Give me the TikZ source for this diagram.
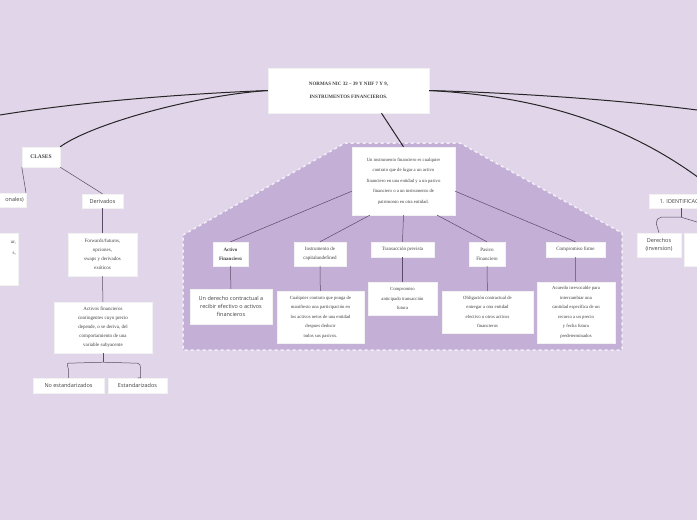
\documentclass[tikz,border=0pt]{standalone}
\usepackage{fontspec}
\setmainfont{Liberation Serif}
\newfontfamily\sansf{Open Sans}
\definecolor{bg}{HTML}{E1D5EA}
\definecolor{reg}{HTML}{C4B0D6}
\definecolor{ln}{HTML}{5A4A66}
\begin{document}
\begin{tikzpicture}[x=1pt,y=-1pt,
 box/.style={draw=white!90!gray,fill=white,inner sep=2pt,align=center,text=black!75,font=\fontsize{5}{9}\selectfont},
 sbox/.style={box,font=\sansf\fontsize{5.5}{8}\selectfont},
 con/.style={draw=ln,line width=0.5pt},
 thick con/.style={draw=black!85,line width=1pt}]
\useasboundingbox (0,0) rectangle (697,520);
\clip (0,0) rectangle (697,520);
\fill[bg] (0,0) rectangle (697,520);
\fill[reg] (183,235) -- (345,143) -- (460,143) -- (622,233) -- (622,350) -- (183,350) -- cycle;
\draw[white!80!reg,line width=1.5pt,dash pattern=on 3pt off 3pt] (183,235) -- (345,143) -- (460,143) -- (622,233) -- (622,350) -- (183,350) -- cycle;
% root
\node[box,minimum width=161,minimum height=45,font=\bfseries\fontsize{5}{13}\selectfont] (root) at (348.5,90.5) {NORMAS NIC 32 -- 39 Y NIIF 7 Y 9,\\INSTRUMENTOS FINANCIEROS.};
\coordinate (L1) at (0,115);
\coordinate (R1) at (697,110);
% definition
\node[box,minimum width=103,minimum height=68,font=\fontsize{4.7}{10.5}\selectfont] (def) at (403.5,181) {Un instrumento financiero es cualquier\\contrato que de lugar a un activo\\financiero en una entidad y a un pasivo\\financiero o a un instrumento de\\patrimonio en otra entidad.};
\node[box,minimum width=35,minimum height=24] (a1) at (230.5,254) {\bfseries Activo\\\bfseries Financiero};
\node[box,minimum width=52,minimum height=24] (a2) at (320,254) {Instrumento de\\capitalundefined};
\node[box,minimum width=63,minimum height=15] (a3) at (402.5,249.5) {Transacción prevista};
\node[box,minimum width=36,minimum height=24] (a4) at (487,254) {Pasivo\\Financiero};
\node[box,minimum width=59,minimum height=15] (a5) at (575.5,249.5) {Compromiso firme};
\node[sbox,minimum width=82,minimum height=35] (b1) at (231,306.5) {Un derecho contractual a\\recibir efectivo o activos\\financieros};
\node[box,minimum width=87,minimum height=52,font=\fontsize{4.7}{9.5}\selectfont] (b2) at (320.5,317) {Cualquier contrato que ponga de\\manifiesto una participación en\\los activos netos de una entidad\\despues deducir\\todos sus pasivos.};
\node[box,minimum width=69,minimum height=33,font=\fontsize{4.7}{9.5}\selectfont] (b3) at (402.5,298.5) {Compromiso\\anticipado transacción\\futura};
\node[box,minimum width=91,minimum height=42,font=\fontsize{4.7}{9.5}\selectfont] (b4) at (487.5,312) {Obligación contractual de\\entregar a otra entidad\\efectivo u otros activos\\financieros};
\node[box,minimum width=78,minimum height=61,font=\fontsize{4.7}{9.5}\selectfont] (b5) at (576,312.5) {Acuerdo irrevocable para\\intercambiar una\\cantidad específica de un\\recurso a un precio\\y fecha futura\\predeterminados};
% left
\node[box,minimum width=38,minimum height=20,font=\bfseries\fontsize{5.5}{8}\selectfont] (cl) at (41,157) {CLASES};
\node[sbox,text width=46,minimum height=14,anchor=east,align=right] (on) at (26,200) {onales)};
\node[sbox,minimum width=41,minimum height=14] (der) at (102.5,201) {Derivados};
\node[box,text width=36,minimum height=52,anchor=north east,align=right,font=\fontsize{5}{11}\selectfont] (lb) at (18,233) {ar,\\s,\\\mbox{}\\\mbox{}};
\node[box,minimum width=69,minimum height=43] (fw) at (102.5,254.5) {Forwards/futuros,\\opciones,\\swaps y derivados\\exóticos};
\node[box,minimum width=98,minimum height=51] (ac) at (103,327.5) {Activos financieros\\contingentes cuyo precio\\depende, o se deriva, del\\comportamiento de una\\variable subyacente};
\node[sbox,minimum width=71,minimum height=15] (ne) at (68.5,385.5) {No estandarizados};
\node[sbox,minimum width=59,minimum height=15] (es) at (137.5,385.5) {Estandarizados};
% right
\node[sbox,minimum width=70,minimum height=14,anchor=west] (id) at (649,201) {1. IDENTIFICACIÓN};
\node[sbox,minimum width=44,minimum height=24] (d1) at (659,245) {Derechos\\(inversion)};
\node[sbox,minimum width=40,minimum height=33,anchor=north west,align=left] (d2) at (684,233) {Ob\\(fi\\)};
% connectors
\draw[thick con] (root.west) .. controls (180,94) and (80,102) .. (L1);
\draw[thick con] (root.west) .. controls (190,96) and (90,125) .. (cl.north east);
\draw[thick con] (root.east) .. controls (520,93) and (620,100) .. (R1);
\draw[thick con] (root.east) .. controls (530,96) and (630,120) .. (id.north east);
\draw[thick con] (root.south) ++(33,0) coordinate (rs) -- (def.north);
\draw[con] (def.south west) ++(0,-24) -- (a1.north);
\draw[con] (def.south west) ++(18,0) -- (a2.north);
\draw[con] (def.south) -- (a3.north);
\draw[con] (def.south east) ++(-18,0) -- (a4.north);
\draw[con] (def.south east) ++(0,-24) -- (a5.north);
\foreach \i in {1,...,5} \draw[con] (a\i) -- (b\i);
\draw[con] (cl.south west) -- (on.north east);
\draw[con] (cl.south east) -- (der.north);
\draw[con] (der) -- (fw);
\draw[con] (fw) -- (ac);
\draw[con] (ac.south) -- ++(0,9) coordinate (j);
\draw[con] (ne.north) -- ++(0,-8) to[out=90,in=180] ([yshift=-1]j -| ne.north) -- (j) -- ([yshift=-1]j -| es.north) to[out=0,in=90] ++(3,4) |- (es.north);
\draw[con] (id.south) ++(-3,0) -- ++(0,9) coordinate (k);
\draw[con] (k) -| ++(-20,0) to[out=180,in=90] ++(-5,6) -- (d1.north);
\draw[con] (k) -- (697,222);
\end{tikzpicture}
\end{document}
